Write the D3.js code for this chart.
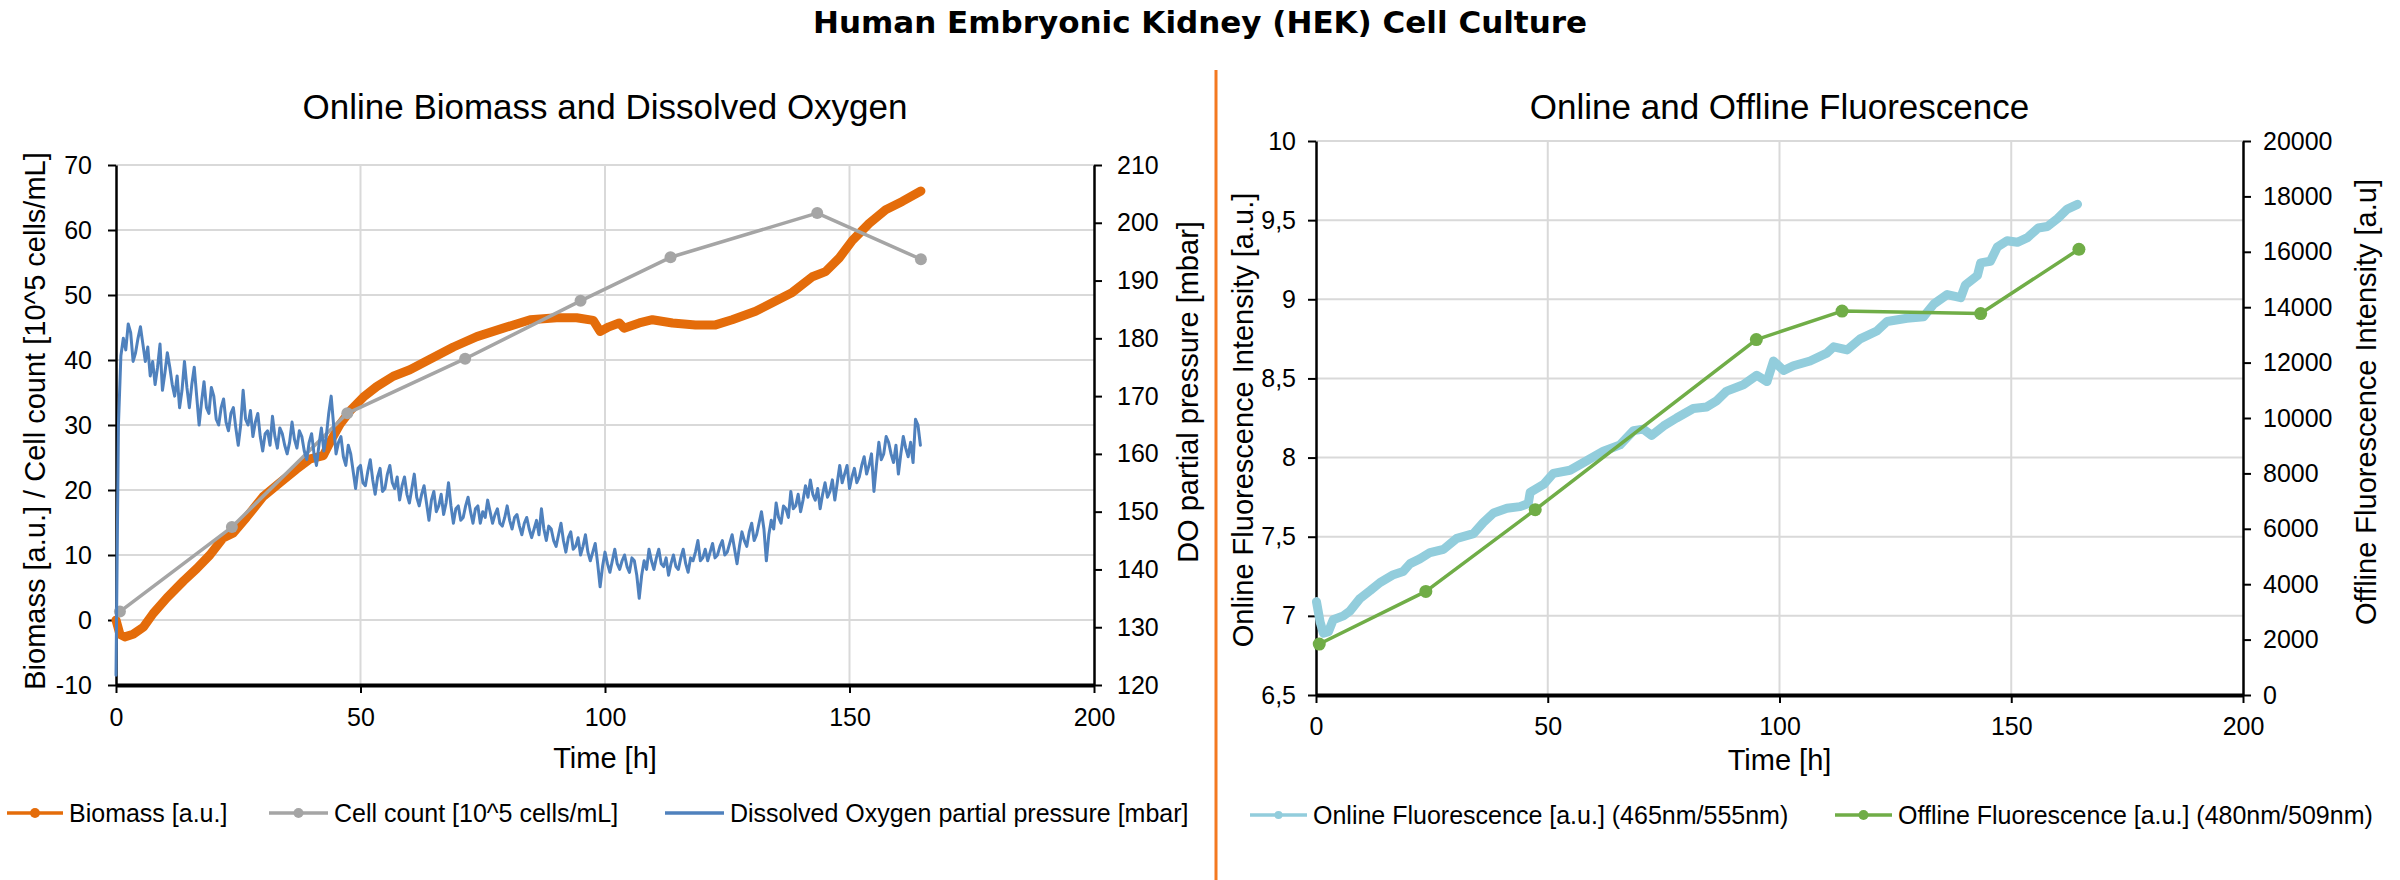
<!DOCTYPE html>
<html>
<head>
<meta charset="utf-8">
<script src="https://cdn.jsdelivr.net/npm/d3@7"></script>
<style>
  body { margin: 0; background: #fff; }
  text { font-family: "Liberation Sans", Arial, sans-serif; fill: #000; }
</style>
</head>
<body>
<div id="chart"></div>
<script>
// ---- data ----
var timeTicks = [0, 50, 100, 150, 200];
var biomassTicks = [-10, 0, 10, 20, 30, 40, 50, 60, 70];
var doTicks = [120, 130, 140, 150, 160, 170, 180, 190, 200, 210];
var onlineTicks = [6.5, 7, 7.5, 8, 8.5, 9, 9.5, 10];
var offlineTicks = [0, 2000, 4000, 6000, 8000, 10000, 12000, 14000, 16000, 18000, 20000];

// biomass [a.u.]
var biomassTime = [0, 0.8, 1.8, 3.5, 5.6, 7.6, 10.4, 13.8, 16.5, 19.2, 21.9, 24, 26.7, 30.1, 33.5, 36.9, 39.7, 42.4, 43.8, 45.8,
  47.9, 50.6, 53.3, 56.7, 60.1, 64.2, 69, 73.8, 79.2, 84.7, 90.1, 94.2, 97.6, 99, 100.8, 102.9, 103.9, 107, 109.7, 113.8,
  118.5, 122.6, 126, 130.8, 134.2, 138.3, 142.4, 145.1, 147.9, 150.6, 154, 157.4, 160.8, 164.6];
var biomassValue = [0, -2.2, -2.6, -2.2, -1.1, 1.0, 3.4, 6.0, 7.9, 10.0, 12.6, 13.4, 15.8, 19.0, 21.1, 23.2, 24.8, 25.3, 27.4, 30.1,
  32.2, 34.3, 35.9, 37.5, 38.5, 40.1, 42.0, 43.6, 44.9, 46.2, 46.5, 46.5, 46.1, 44.4, 45.1, 45.7, 44.9, 45.7, 46.2, 45.7,
  45.4, 45.4, 46.2, 47.5, 48.8, 50.4, 52.8, 53.6, 55.7, 58.4, 61.0, 63.1, 64.4, 66.0];

// cell count [10^5 cells/mL]
var cellTime = [0.8, 23.7, 47.3, 71.4, 95, 113.4, 143.4, 164.6];
var cellCount = [1.3, 14.3, 31.8, 40.2, 49.1, 55.8, 62.6, 55.5];

// dissolved oxygen partial pressure [mbar], one reading every half hour
var doTime = [
  0, 0.5, 1, 1.5, 2, 2.5, 3, 3.5, 4, 4.5, 5, 5.5, 6, 6.5, 7, 7.5, 8, 8.5, 9, 9.5,
  10, 10.5, 11, 11.5, 12, 12.5, 13, 13.5, 14, 14.5, 15, 15.5, 16, 16.5, 17, 17.5, 18, 18.5, 19, 19.5,
  20, 20.5, 21, 21.5, 22, 22.5, 23, 23.5, 24, 24.5, 25, 25.5, 26, 26.5, 27, 27.5, 28, 28.5, 29, 29.5,
  30, 30.5, 31, 31.5, 32, 32.5, 33, 33.5, 34, 34.5, 35, 35.5, 36, 36.5, 37, 37.5, 38, 38.5, 39, 39.5,
  40, 40.5, 41, 41.5, 42, 42.5, 43, 43.5, 44, 44.5, 45, 45.5, 46, 46.5, 47, 47.5, 48, 48.5, 49, 49.5,
  50, 50.5, 51, 51.5, 52, 52.5, 53, 53.5, 54, 54.5, 55, 55.5, 56, 56.5, 57, 57.5, 58, 58.5, 59, 59.5,
  60, 60.5, 61, 61.5, 62, 62.5, 63, 63.5, 64, 64.5, 65, 65.5, 66, 66.5, 67, 67.5, 68, 68.5, 69, 69.5,
  70, 70.5, 71, 71.5, 72, 72.5, 73, 73.5, 74, 74.5, 75, 75.5, 76, 76.5, 77, 77.5, 78, 78.5, 79, 79.5,
  80, 80.5, 81, 81.5, 82, 82.5, 83, 83.5, 84, 84.5, 85, 85.5, 86, 86.5, 87, 87.5, 88, 88.5, 89, 89.5,
  90, 90.5, 91, 91.5, 92, 92.5, 93, 93.5, 94, 94.5, 95, 95.5, 96, 96.5, 97, 97.5, 98, 98.5, 99, 99.5,
  100, 100.5, 101, 101.5, 102, 102.5, 103, 103.5, 104, 104.5, 105, 105.5, 106, 106.5, 107, 107.5, 108, 108.5, 109, 109.5,
  110, 110.5, 111, 111.5, 112, 112.5, 113, 113.5, 114, 114.5, 115, 115.5, 116, 116.5, 117, 117.5, 118, 118.5, 119, 119.5,
  120, 120.5, 121, 121.5, 122, 122.5, 123, 123.5, 124, 124.5, 125, 125.5, 126, 126.5, 127, 127.5, 128, 128.5, 129, 129.5,
  130, 130.5, 131, 131.5, 132, 132.5, 133, 133.5, 134, 134.5, 135, 135.5, 136, 136.5, 137, 137.5, 138, 138.5, 139, 139.5,
  140, 140.5, 141, 141.5, 142, 142.5, 143, 143.5, 144, 144.5, 145, 145.5, 146, 146.5, 147, 147.5, 148, 148.5, 149, 149.5,
  150, 150.5, 151, 151.5, 152, 152.5, 153, 153.5, 154, 154.5, 155, 155.5, 156, 156.5, 157, 157.5, 158, 158.5, 159, 159.5,
  160, 160.5, 161, 161.5, 162, 162.5, 163, 163.5, 164, 164.5];
var doValue = [
  121.7, 165, 177, 180, 178, 182.5, 181, 176, 177.5, 180, 182, 179, 176, 178.5, 173.5, 176, 172, 175, 179, 171,
  174, 177.5, 175, 172, 170, 173.5, 168, 171, 176, 171.5, 168, 172, 175, 170, 165, 169, 172.5, 168, 167, 171.5,
  170, 166, 165, 168, 169.5, 165.5, 164, 167, 168, 164.5, 161.5, 165, 171, 166, 165, 167.5, 163, 165.5, 167, 163,
  160.5, 163.5, 164, 161.5, 166.5, 163, 161, 164.5, 163.5, 161.5, 160, 162, 165.5, 162.5, 161, 164, 163, 160.5, 159, 162,
  163.5, 160, 158, 161.5, 164.5, 160.5, 163, 167, 170, 165, 160, 162, 163, 159.5, 158, 161.5, 160, 157, 154, 157.5,
  158, 155, 154.5, 157, 159, 155.5, 153, 156, 157.5, 153.5, 154, 156.5, 158, 155, 154, 156, 152, 154.5, 156, 153,
  151.5, 154, 156.5, 152.5, 151, 153, 154.5, 151.5, 148.5, 152, 153.5, 150, 151, 153, 149.5, 151.5, 155, 151, 148, 150.5,
  151, 148.5, 149, 151, 152.5, 150, 148, 150.5, 151, 148, 150, 149, 152, 150, 148, 149.5, 150.5, 148, 147.5, 149,
  151, 148.5, 147, 149, 149.5, 147.5, 146, 148, 149, 147, 145.5, 147, 148.5, 146, 150.5, 147, 145, 147.5, 147, 145,
  144, 146, 148, 145, 143, 145.5, 146.5, 143.5, 144, 145.5, 142.5, 144, 146, 143, 141.5, 143, 144.5, 141, 137, 140.5,
  143, 141, 139.5, 141.5, 143.5, 141, 140, 141.5, 142.5, 140.5, 139.5, 142, 141.5, 139, 135, 139, 141.5, 140, 143.5, 141.5,
  140, 142, 143.5, 141, 140.5, 142, 139, 141, 142.5, 140.5, 140, 142, 143.5, 141, 139.5, 142, 141.5, 143, 145, 141.5,
  142, 143.5, 141.5, 143, 144.5, 142, 142.5, 144, 145, 142.5, 143, 144.5, 146, 143.5, 141, 144, 146.5, 145, 144, 146.5,
  148, 145, 146, 148, 150, 147, 141.5, 146, 148.5, 147, 151.5, 149, 148, 151, 150.5, 149, 153.5, 150.5, 151, 153,
  150, 152, 154.5, 152.5, 155.5, 153, 152, 154, 150.5, 153, 155, 152.5, 153.5, 155.5, 152, 155, 158, 155, 156.5, 158,
  154, 156, 157.5, 155, 156, 158, 159.5, 156.5, 158, 160, 153.5, 158, 162, 159, 160, 163, 162, 160, 158.5, 161.5,
  156.5, 160, 163, 161, 159.5, 162, 158.5, 166, 165, 161.5];

// online fluorescence [a.u.] (465nm/555nm)
var onlineTime = [0.1, 0.9, 1.6, 2.7, 3.7, 5.9, 7.3, 9.5, 11.7, 13.8, 16.7, 18.8, 20.3, 22.4, 24.6, 27.5, 30.4, 34, 36.1, 38.3,
  41.2, 44, 45.8, 46.2, 49.1, 51.2, 54.8, 58.4, 62, 65.6, 68.5, 70.6, 72.4, 75, 77.8, 81.4, 84.3, 86.5, 88.6, 92.2,
  95.1, 97.3, 98.7, 100.9, 103, 106.6, 110.2, 111.7, 114.6, 117.4, 121, 123.2, 127.5, 131.1, 133.3, 136.2, 139.1, 140.1, 142.7, 143.4,
  145.5, 147, 149.1, 151.3, 153.5, 155.8, 157.8, 160, 162.1, 164.3];
var onlineValue = [7.09, 6.96, 6.89, 6.90, 6.975, 7.0, 7.03, 7.11, 7.16, 7.21, 7.26, 7.28, 7.33, 7.36, 7.40, 7.42, 7.49, 7.52, 7.59, 7.65,
  7.68, 7.69, 7.71, 7.78, 7.83, 7.90, 7.92, 7.98, 8.04, 8.08, 8.17, 8.18, 8.14, 8.20, 8.25, 8.31, 8.32, 8.36, 8.42, 8.46,
  8.52, 8.48, 8.61, 8.55, 8.58, 8.61, 8.66, 8.70, 8.68, 8.75, 8.80, 8.86, 8.88, 8.89, 8.97, 9.03, 9.01, 9.09, 9.15, 9.23,
  9.24, 9.33, 9.37, 9.36, 9.39, 9.45, 9.46, 9.51, 9.57, 9.60];

// offline fluorescence [a.u.] (480nm/509nm)
var offlineTime = [0.7, 23.7, 47.3, 95, 113.5, 143.4, 164.6];
var offlineValue = [1840, 3740, 6690, 12830, 13860, 13770, 16090];

var plain = function(d) { return String(d); };
var decimalComma = function(d) { return String(d).replace(".", ","); };

var svg = d3.select("#chart")
  .append("svg")
    .attr("width", 2400)
    .attr("height", 880);

// main title + divider
svg.append("text")
  .attr("x", 1200).attr("y", 33)
  .attr("text-anchor", "middle")
  .style("font-family", "'DejaVu Sans', sans-serif")
  .style("font-weight", "bold")
  .style("font-size", "31px")
  .text("Human Embryonic Kidney (HEK) Cell Culture");

svg.append("line")
  .attr("x1", 1216).attr("x2", 1216)
  .attr("y1", 70).attr("y2", 880)
  .attr("stroke", "#f47920")
  .attr("stroke-width", 3);

// draws grid + the three axes of one panel
function drawFrame(p) {
  var g = svg.append("g");
  var left = p.x.range()[0], right = p.x.range()[1];
  var bottom = p.yL.range()[0], top = p.yL.range()[1];

  g.selectAll(".hgrid")
    .data(p.yTicks.slice(1))
    .enter().append("line")
      .attr("x1", left).attr("x2", right)
      .attr("y1", function(d) { return p.yL(d); })
      .attr("y2", function(d) { return p.yL(d); })
      .attr("stroke", "#d9d9d9").attr("stroke-width", 2);

  g.selectAll(".vgrid")
    .data(p.xTicks.slice(1, -1))
    .enter().append("line")
      .attr("x1", function(d) { return p.x(d); })
      .attr("x2", function(d) { return p.x(d); })
      .attr("y1", top).attr("y2", bottom)
      .attr("stroke", "#d9d9d9").attr("stroke-width", 2);

  var axL = g.append("g")
    .attr("transform", "translate(" + left + ",0)")
    .call(d3.axisLeft(p.yL).tickValues(p.yTicks).tickFormat(p.fmtL).tickSize(8).tickSizeOuter(0).tickPadding(p.padL));
  var axR = g.append("g")
    .attr("transform", "translate(" + right + ",0)")
    .call(d3.axisRight(p.yR).tickValues(p.yRTicks).tickFormat(plain).tickSize(8).tickSizeOuter(0).tickPadding(p.padR));
  var axB = g.append("g")
    .attr("transform", "translate(0," + bottom + ")")
    .call(d3.axisBottom(p.x).tickValues(p.xTicks).tickFormat(plain).tickSize(8).tickSizeOuter(0).tickPadding(p.padB));

  [axL, axR, axB].forEach(function(a) {
    a.attr("font-family", "'Liberation Sans', Arial, sans-serif").attr("font-size", 25);
    a.select(".domain").attr("stroke", "#000").attr("stroke-width", 2.5);
    a.selectAll(".tick line").attr("stroke", "#000").attr("stroke-width", 2);
    a.selectAll(".tick text").attr("fill", "#000");
  });
  axB.select(".domain").attr("stroke-width", 4);

  // titles
  svg.append("text")
    .attr("x", (left + right) / 2).attr("y", 107).attr("dy", "0.35em")
    .attr("text-anchor", "middle").style("font-size", "35px")
    .text(p.title);
  svg.append("text")
    .attr("x", (left + right) / 2).attr("y", p.timeY).attr("dy", "0.35em")
    .attr("text-anchor", "middle").style("font-size", "29px")
    .text("Time [h]");
  p.yTitles.forEach(function(t) {
    svg.append("text")
      .attr("transform", "translate(" + t.x + "," + t.y + ") rotate(-90)")
      .attr("dy", "0.35em")
      .attr("text-anchor", "middle").style("font-size", "29px")
      .text(t.label);
  });
}

function drawLine(x, y, xs, ys, color, width) {
  var line = d3.line()
    .x(function(d) { return x(d[0]); })
    .y(function(d) { return y(d[1]); });
  svg.append("path")
    .datum(d3.zip(xs, ys))
    .attr("d", line)
    .attr("fill", "none")
    .attr("stroke", color)
    .attr("stroke-width", width)
    .attr("stroke-linejoin", "round")
    .attr("stroke-linecap", "round");
}

function drawDots(x, y, xs, ys, color, r) {
  svg.selectAll(null)
    .data(d3.zip(xs, ys))
    .enter().append("circle")
      .attr("cx", function(d) { return x(d[0]); })
      .attr("cy", function(d) { return y(d[1]); })
      .attr("r", r)
      .attr("fill", color);
}

function drawLegend(items, y) {
  items.forEach(function(it) {
    svg.append("line")
      .attr("x1", it.x1).attr("x2", it.x2)
      .attr("y1", y).attr("y2", y)
      .attr("stroke", it.color).attr("stroke-width", 3.5);
    if (it.marker) {
      svg.append("circle")
        .attr("cx", (it.x1 + it.x2) / 2).attr("cy", y)
        .attr("r", it.marker).attr("fill", it.color);
    }
    svg.append("text")
      .attr("x", it.x2 + 6).attr("y", y).attr("dy", "0.35em")
      .style("font-size", "25px")
      .text(it.label);
  });
}

// ---- left panel: biomass and dissolved oxygen ----
var x1 = d3.scaleLinear().domain([0, 200]).range([116, 1094]);
var yBio = d3.scaleLinear().domain([-10, 70]).range([685, 165]);
var yDO = d3.scaleLinear().domain([120, 210]).range([685, 165]);

drawFrame({
  x: x1, yL: yBio, yR: yDO,
  xTicks: timeTicks, yTicks: biomassTicks, yRTicks: doTicks,
  fmtL: plain, padL: 16, padR: 15, padB: 15,
  title: "Online Biomass and Dissolved Oxygen",
  timeY: 758,
  yTitles: [
    {x: 35, y: 421, label: "Biomass [a.u.] / Cell count [10^5 cells/mL]"},
    {x: 1188, y: 392, label: "DO partial pressure [mbar]"}
  ]
});

drawLine(x1, yBio, biomassTime, biomassValue, "#e46c0a", 9);
drawLine(x1, yBio, cellTime, cellCount, "#a5a5a5", 3.5);
drawDots(x1, yBio, cellTime, cellCount, "#a5a5a5", 6);
drawLine(x1, yDO, doTime, doValue, "#4f81bd", 3);

drawLegend([
  {x1: 7, x2: 63, color: "#e46c0a", marker: 5, label: "Biomass [a.u.]"},
  {x1: 269, x2: 328, color: "#a5a5a5", marker: 5, label: "Cell count [10^5 cells/mL]"},
  {x1: 665, x2: 724, color: "#4f81bd", marker: 0, label: "Dissolved Oxygen partial pressure [mbar]"}
], 813);

// ---- right panel: fluorescence ----
var x2 = d3.scaleLinear().domain([0, 200]).range([1316, 2243]);
var yOn = d3.scaleLinear().domain([6.5, 10]).range([695, 141]);
var yOff = d3.scaleLinear().domain([0, 20000]).range([695, 141]);

drawFrame({
  x: x2, yL: yOn, yR: yOff,
  xTicks: timeTicks, yTicks: onlineTicks, yRTicks: offlineTicks,
  fmtL: decimalComma, padL: 12, padR: 12, padB: 14,
  title: "Online and Offline Fluorescence",
  timeY: 760,
  yTitles: [
    {x: 1243, y: 420, label: "Online Fluorescence Intensity [a.u.]"},
    {x: 2366, y: 402, label: "Offline Fluorescence Intensity [a.u]"}
  ]
});

drawLine(x2, yOn, onlineTime, onlineValue, "#92cddc", 9);
drawLine(x2, yOff, offlineTime, offlineValue, "#70ad47", 3.5);
drawDots(x2, yOff, offlineTime, offlineValue, "#70ad47", 6.5);

drawLegend([
  {x1: 1250, x2: 1307, color: "#92cddc", marker: 4, label: "Online Fluorescence [a.u.] (465nm/555nm)"},
  {x1: 1835, x2: 1892, color: "#70ad47", marker: 5, label: "Offline Fluorescence [a.u.] (480nm/509nm)"}
], 815);
</script>
</body>
</html>
